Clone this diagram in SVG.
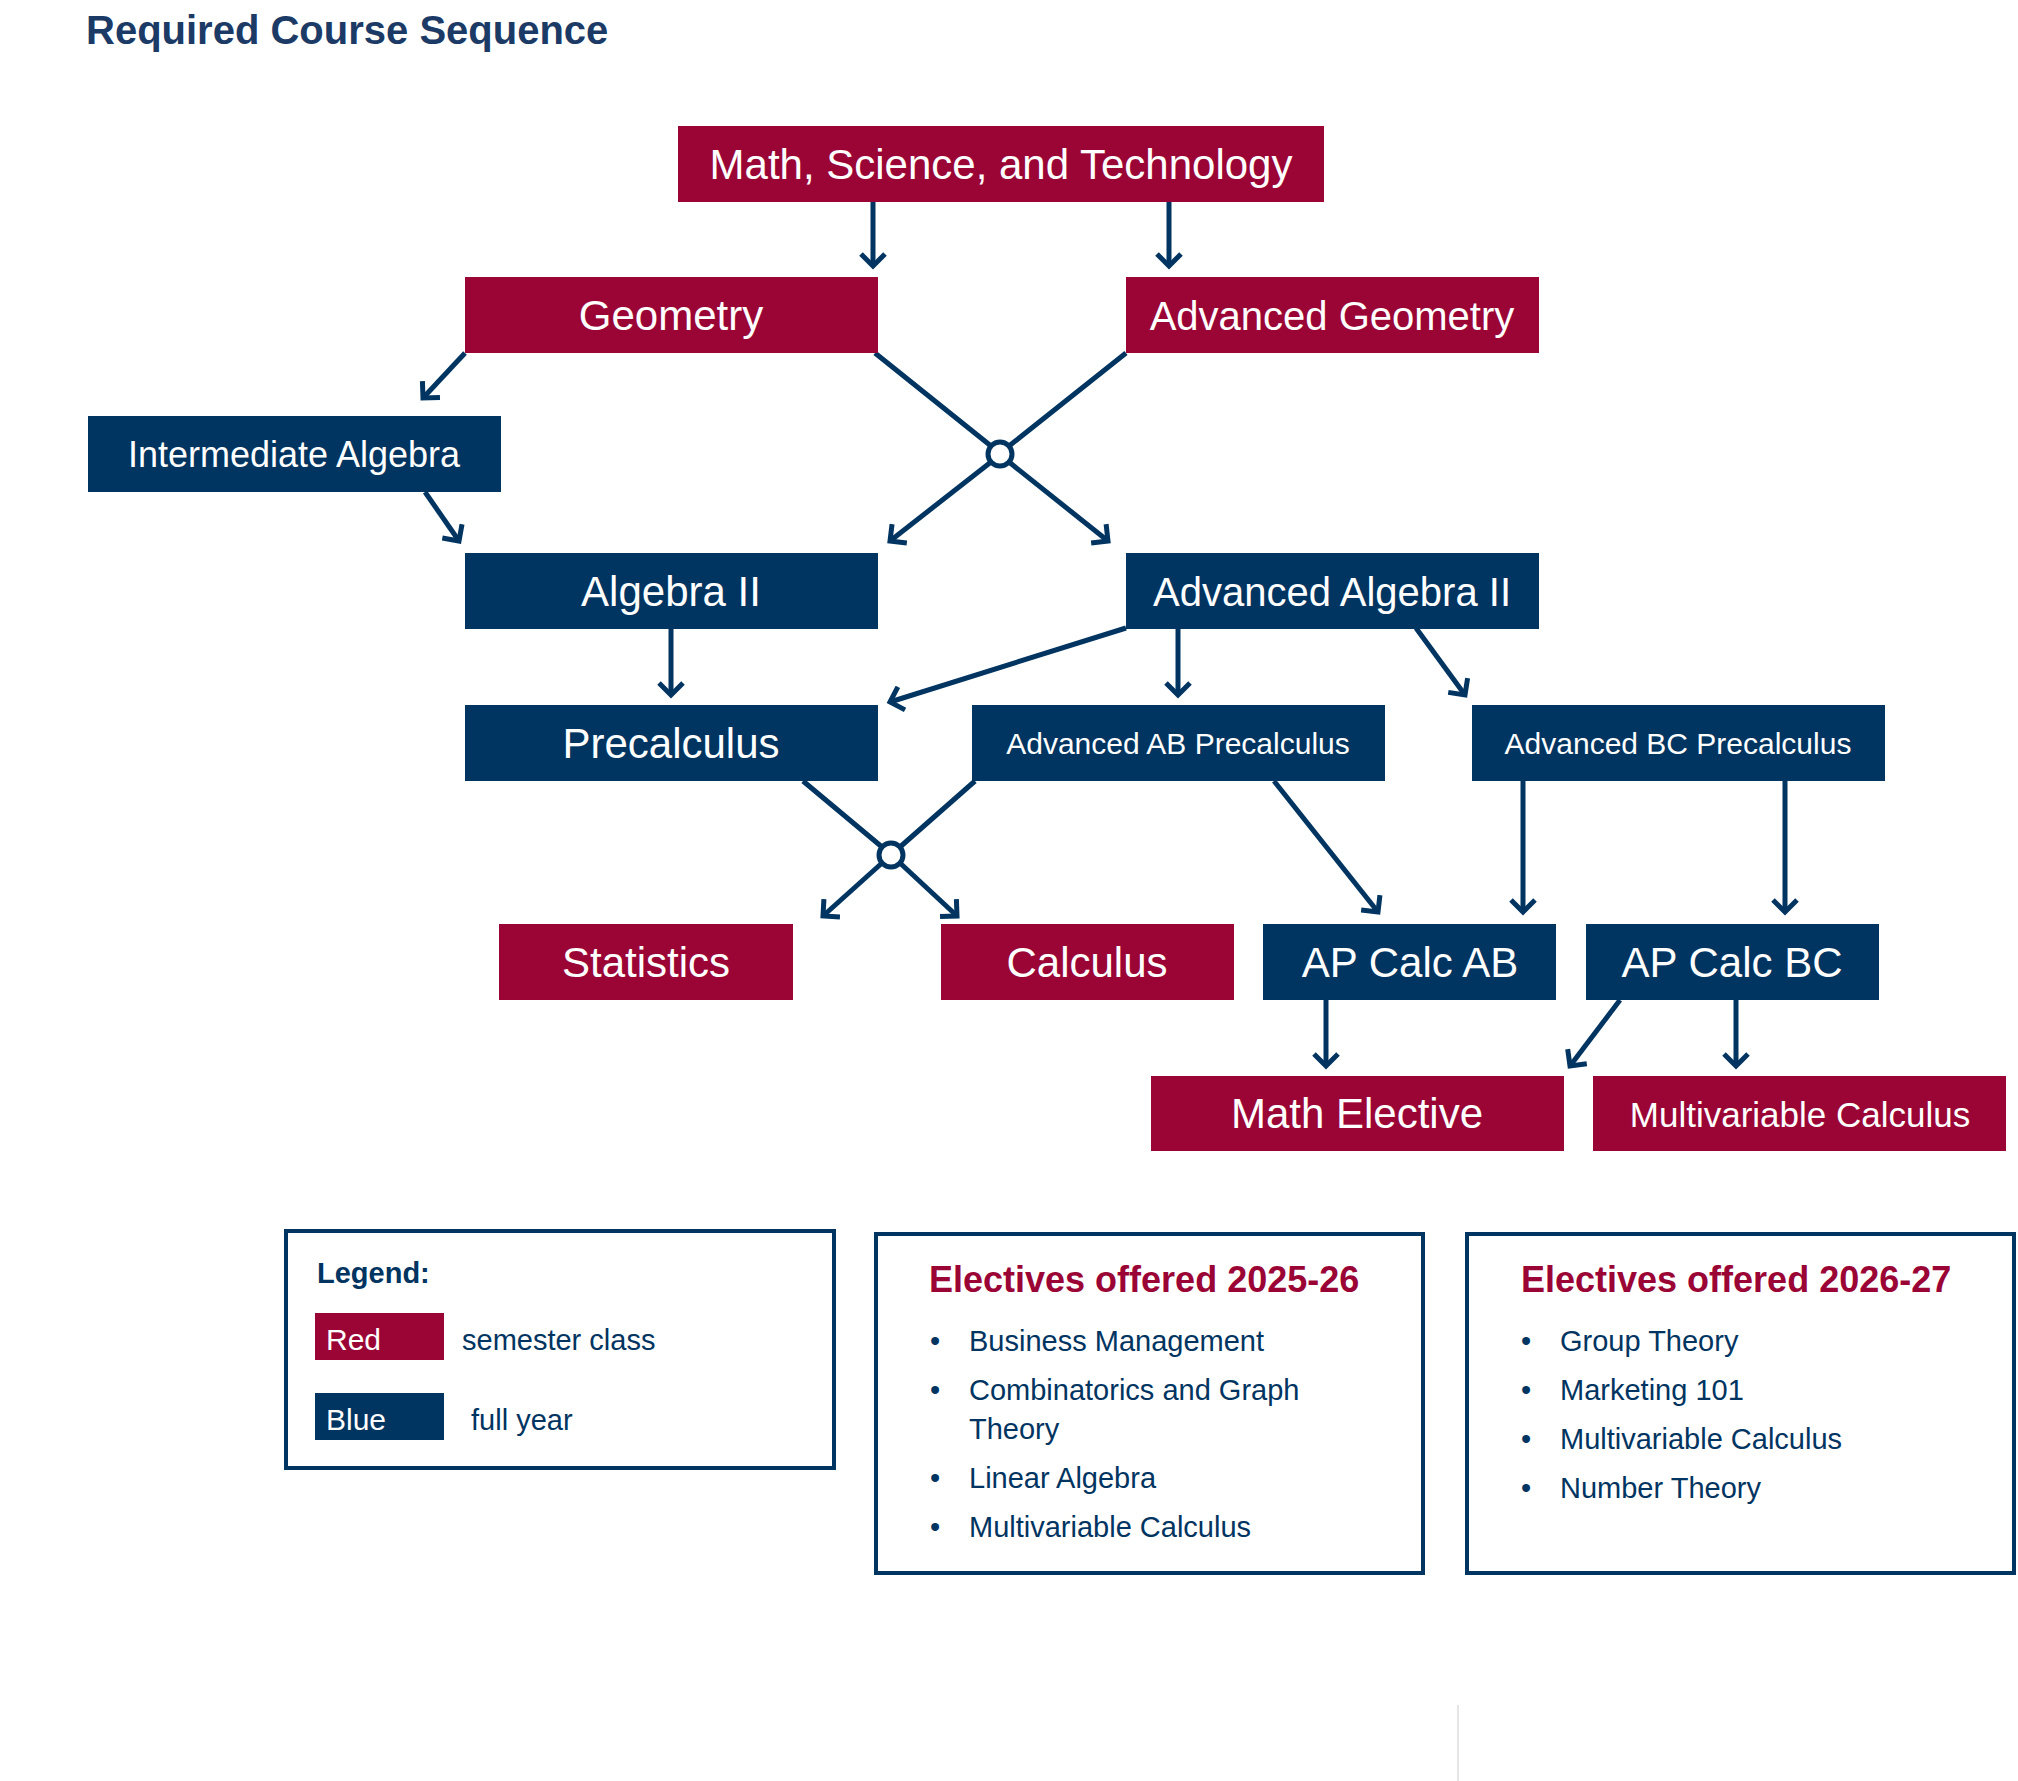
<svg xmlns="http://www.w3.org/2000/svg" width="2018" height="1781" viewBox="0 0 2018 1781">
<style>
.r{fill:#9b0536}.b{fill:#003461}
.t{font-family:"Liberation Sans",Arial,sans-serif;fill:#fff;text-anchor:middle}
.c{stroke:#003461;stroke-width:5;fill:none}
.d{font-family:"Liberation Sans",Arial,sans-serif;fill:#003461;font-size:29px}
.h{font-family:"Liberation Sans",Arial,sans-serif;fill:#9b0536;font-size:36px;font-weight:bold}
</style>
<defs><marker id="a" viewBox="-14 -14 28 28" markerWidth="28" markerHeight="28" markerUnits="userSpaceOnUse" orient="auto"><path d="M-12,-12 L0,0 L-12,12" fill="none" stroke="#003461" stroke-width="5"/></marker></defs>
<rect width="2018" height="1781" fill="#fff"/>
<text x="86" y="44" font-family="'Liberation Sans',Arial,sans-serif" font-size="40" font-weight="bold" fill="#1b3a66">Required Course Sequence</text>
<g id="connectors" class="c">
<path d="M873,202V266" marker-end="url(#a)"/>
<path d="M1169,202V266" marker-end="url(#a)"/>
<path d="M465,353L423,398" marker-end="url(#a)"/>
<path d="M425,492L459,541" marker-end="url(#a)"/>
<path d="M875,353L991,446M1126,353L1009,446"/>
<path d="M991,462L890,541" marker-end="url(#a)"/>
<path d="M1009,462L1108,541" marker-end="url(#a)"/>
<path d="M671,629V695" marker-end="url(#a)"/>
<path d="M1126,628L890,702" marker-end="url(#a)"/>
<path d="M1178,629V695" marker-end="url(#a)"/>
<path d="M1416,628L1465,695" marker-end="url(#a)"/>
<path d="M803,781L882,847M975,781L900,847"/>
<path d="M882,863L823,916" marker-end="url(#a)"/>
<path d="M900,863L957,916" marker-end="url(#a)"/>
<path d="M1274,781L1378,912" marker-end="url(#a)"/>
<path d="M1523,781V912" marker-end="url(#a)"/>
<path d="M1785,781V912" marker-end="url(#a)"/>
<path d="M1326,1000V1066" marker-end="url(#a)"/>
<path d="M1620,1000L1570,1066" marker-end="url(#a)"/>
<path d="M1736,1000V1066" marker-end="url(#a)"/>
<circle cx="1000" cy="454" r="12" fill="#fff"/>
<circle cx="891" cy="855" r="12" fill="#fff"/>
</g>
<g id="n1"><rect class="r" x="678" y="126" width="646" height="76"/><text class="t" x="1001" y="179" font-size="42">Math, Science, and Technology</text></g>
<g id="n2"><rect class="r" x="465" y="277" width="413" height="76"/><text class="t" x="671" y="330" font-size="42">Geometry</text></g>
<g id="n3"><rect class="r" x="1126" y="277" width="413" height="76"/><text class="t" x="1332" y="330" font-size="40">Advanced Geometry</text></g>
<g id="n4"><rect class="b" x="88" y="416" width="413" height="76"/><text class="t" x="294" y="467" font-size="36">Intermediate Algebra</text></g>
<g id="n5"><rect class="b" x="465" y="553" width="413" height="76"/><text class="t" x="671" y="606" font-size="42">Algebra II</text></g>
<g id="n6"><rect class="b" x="1126" y="553" width="413" height="76"/><text class="t" x="1332" y="606" font-size="40">Advanced Algebra II</text></g>
<g id="n7"><rect class="b" x="465" y="705" width="413" height="76"/><text class="t" x="671" y="758" font-size="42">Precalculus</text></g>
<g id="n8"><rect class="b" x="972" y="705" width="413" height="76"/><text class="t" x="1178" y="754" font-size="30">Advanced AB Precalculus</text></g>
<g id="n9"><rect class="b" x="1472" y="705" width="413" height="76"/><text class="t" x="1678" y="754" font-size="30">Advanced BC Precalculus</text></g>
<g id="n10"><rect class="r" x="499" y="924" width="294" height="76"/><text class="t" x="646" y="977" font-size="42">Statistics</text></g>
<g id="n11"><rect class="r" x="941" y="924" width="293" height="76"/><text class="t" x="1087" y="977" font-size="42">Calculus</text></g>
<g id="n12"><rect class="b" x="1263" y="924" width="293" height="76"/><text class="t" x="1410" y="977" font-size="42">AP Calc AB</text></g>
<g id="n13"><rect class="b" x="1586" y="924" width="293" height="76"/><text class="t" x="1732" y="977" font-size="42">AP Calc BC</text></g>
<g id="n14"><rect class="r" x="1151" y="1076" width="413" height="75"/><text class="t" x="1357" y="1128" font-size="42">Math Elective</text></g>
<g id="n15"><rect class="r" x="1593" y="1076" width="413" height="75"/><text class="t" x="1800" y="1127" font-size="35">Multivariable Calculus</text></g>
<g id="legend">
<rect x="286" y="1231" width="548" height="237" fill="none" stroke="#003461" stroke-width="4"/>
<text class="d" x="317" y="1283" font-weight="bold" font-size="34">Legend:</text>
<rect class="r" x="315" y="1313" width="129" height="47"/><text x="326" y="1350" font-family="'Liberation Sans',Arial,sans-serif" font-size="30" fill="#fff">Red</text>
<text class="d" x="462" y="1350">semester class</text>
<rect class="b" x="315" y="1393" width="129" height="47"/><text x="326" y="1430" font-family="'Liberation Sans',Arial,sans-serif" font-size="30" fill="#fff">Blue</text>
<text class="d" x="471" y="1430">full year</text>
</g>
<g id="el1">
<rect x="876" y="1234" width="547" height="339" fill="none" stroke="#003461" stroke-width="4"/>
<text class="h" x="929" y="1292">Electives offered 2025-26</text>
<g class="d"><text x="930" y="1351">•</text><text x="969" y="1351">Business Management</text>
<text x="930" y="1400">•</text><text x="969" y="1400">Combinatorics and Graph</text><text x="969" y="1439">Theory</text>
<text x="930" y="1488">•</text><text x="969" y="1488">Linear Algebra</text>
<text x="930" y="1537">•</text><text x="969" y="1537">Multivariable Calculus</text></g>
</g>
<g id="el2">
<rect x="1467" y="1234" width="547" height="339" fill="none" stroke="#003461" stroke-width="4"/>
<text class="h" x="1521" y="1292">Electives offered 2026-27</text>
<g class="d"><text x="1521" y="1351">•</text><text x="1560" y="1351">Group Theory</text>
<text x="1521" y="1400">•</text><text x="1560" y="1400">Marketing 101</text>
<text x="1521" y="1449">•</text><text x="1560" y="1449">Multivariable Calculus</text>
<text x="1521" y="1498">•</text><text x="1560" y="1498">Number Theory</text></g>
</g>
<line x1="1458" y1="1705" x2="1458" y2="1781" stroke="#ddd" stroke-width="1.5"/>
</svg>
